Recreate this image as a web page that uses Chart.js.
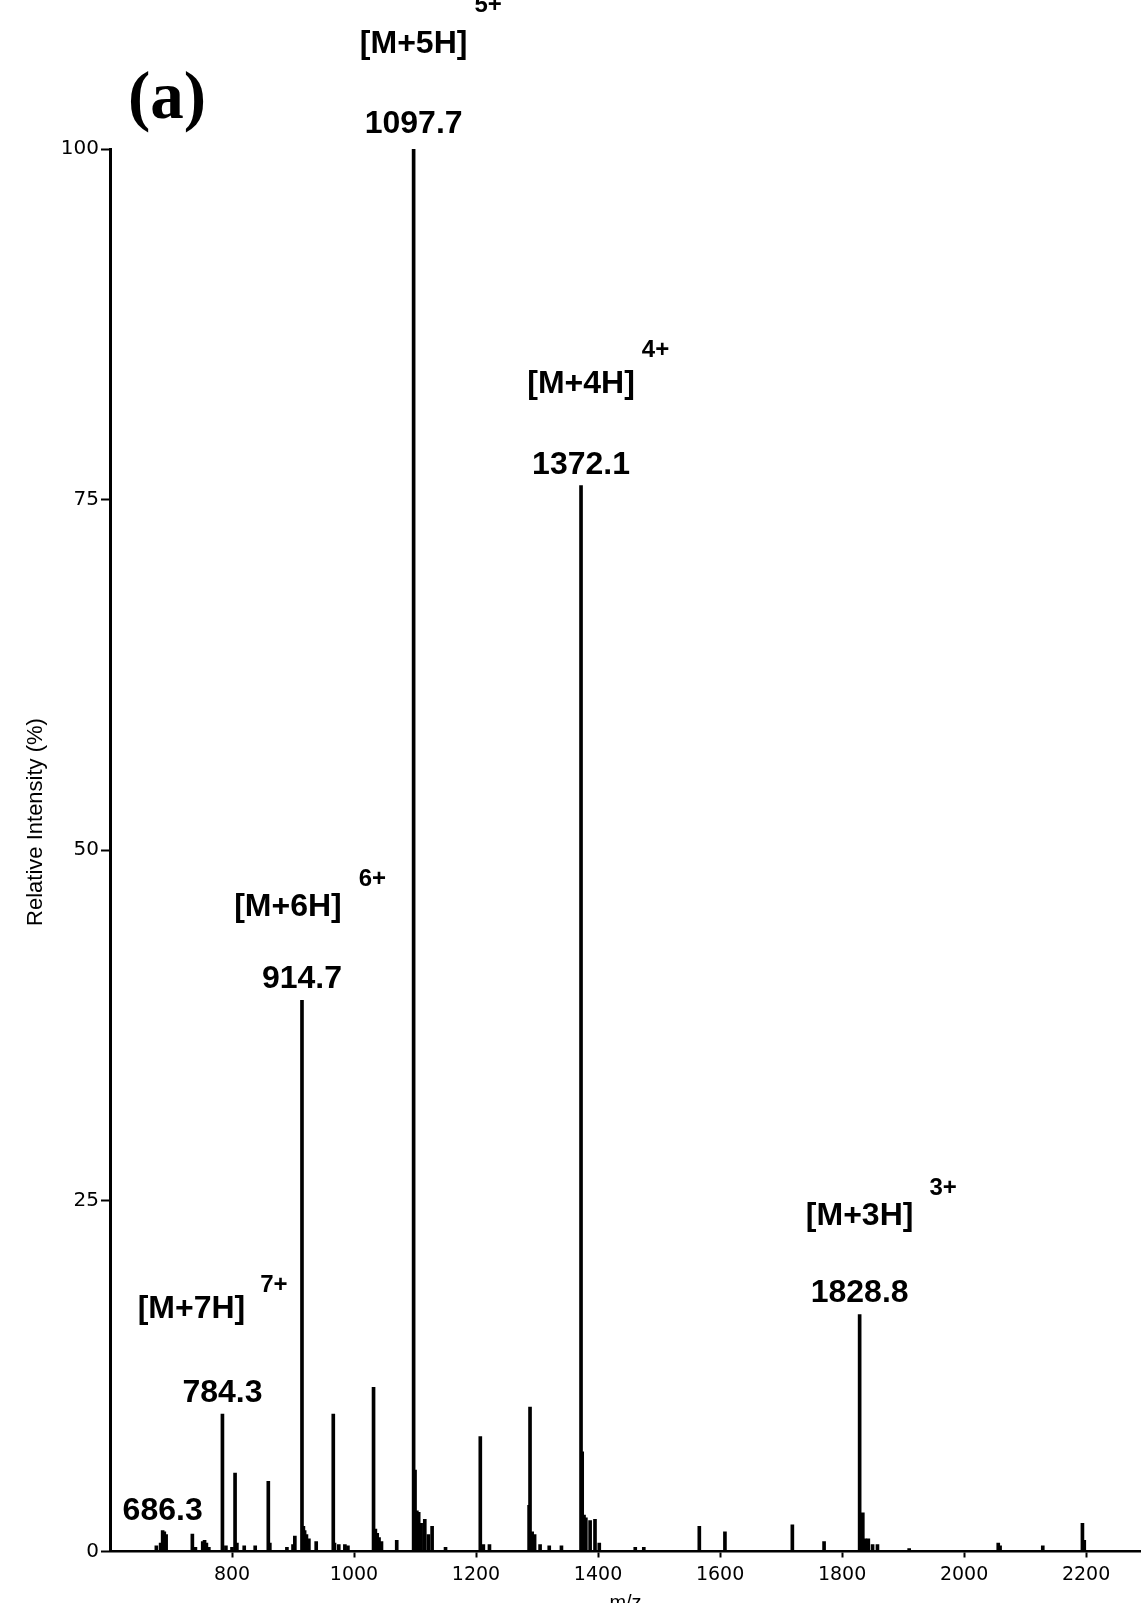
<!DOCTYPE html>
<html>
<head>
<meta charset="utf-8">
<script src="https://cdn.jsdelivr.net/npm/chart.js@4.4.1/dist/chart.umd.min.js"></script>
<style>
  html, body { margin: 0; padding: 0; background: #fff; overflow: hidden; }
  canvas { display: block; }
</style>
</head>
<body>
<canvas id="canvas" width="1141" height="1603"></canvas>
<script>
// spectrum sticks: m/z and relative intensity (%)
var peakMz = [
  676, 683, 686.3, 689, 692, 735, 740, 752, 755, 758, 762,
  784.3, 790, 800, 805, 808, 820, 838, 859.5, 862, 890, 900, 903,
  914.7, 917, 919, 922, 926, 938, 966, 968, 975, 985, 990,
  1032, 1035, 1038, 1041, 1045, 1070,
  1097.7, 1100, 1103, 1106, 1110, 1116, 1122, 1128, 1150,
  1207, 1212, 1222, 1287, 1288.5, 1292, 1296, 1305, 1320, 1340,
  1372.1, 1374, 1377, 1380, 1387, 1395, 1402, 1461, 1475,
  1566, 1608, 1718.5, 1770.5,
  1828.8, 1834, 1838, 1843, 1850, 1858, 1910,
  2056, 2059, 2129, 2194, 2197
];
var peakInt = [
  0.4, 0.6, 1.5, 1.4, 1.2, 1.25, 0.3, 0.7, 0.8, 0.6, 0.3,
  9.8, 0.4, 0.3, 5.6, 0.6, 0.4, 0.4, 5.0, 0.6, 0.3, 0.5, 1.1,
  39.3, 1.8, 1.5, 1.2, 0.9, 0.7, 9.8, 0.6, 0.5, 0.5, 0.4,
  11.7, 1.6, 1.3, 1.0, 0.7, 0.8,
  100, 5.8, 2.9, 2.8, 2.0, 2.3, 1.2, 1.8, 0.3,
  8.2, 0.5, 0.5, 3.3, 10.3, 1.4, 1.2, 0.5, 0.4, 0.4,
  76.0, 7.1, 2.6, 2.4, 2.2, 2.3, 0.6, 0.3, 0.3,
  1.8, 1.4, 1.9, 0.7,
  16.9, 2.75, 0.9, 0.9, 0.5, 0.5, 0.2,
  0.6, 0.4, 0.4, 2.0, 0.8
];

// annotated peaks
var labelMz = [686.3, 784.3, 914.7, 1097.7, 1372.1, 1828.8];
var labelText = ['686.3', '784.3', '914.7', '1097.7', '1372.1', '1828.8'];
var ionNames = [null, '[M+7H]', '[M+6H]', '[M+5H]', '[M+4H]', '[M+3H]'];
var ionCharges = [null, '7+', '6+', '5+', '4+', '3+'];

// axes
var xTicks = [800, 1000, 1200, 1400, 1600, 1800, 2000, 2200];
var yTicks = [0, 25, 50, 75, 100];
var xMin = 600, xMax = 2290;

var points = [];
for (var i = 0; i < peakMz.length; i++) {
  points.push({x: peakMz[i], y: peakInt[i]});
}

// hand tuned offsets for the labels (px)
var numGap   = [10, 12, 12, 16, 12, 12];
var ionRise  = [0, 84, 72, 80, 81, 77];
var ionDx    = [0, -31, -14, 0, 0, 0];
var supGap   = [0, 15, 17, 7, 7, 16];
var supRise  = [0, 26, 30, 41, 36, 30];

var labelPlugin = {
  id: 'peakLabels',
  afterDraw: function(chart) {
    var ctx = chart.ctx;
    var xs = chart.scales.x, ys = chart.scales.y;
    ctx.save();
    ctx.fillStyle = '#000';

    for (var i = 0; i < labelMz.length; i++) {
      var h = peakInt[peakMz.indexOf(labelMz[i])];
      var px = xs.getPixelForValue(labelMz[i]);
      var py = ys.getPixelForValue(h);
      var base = py - numGap[i];

      ctx.font = 'bold 32px "Liberation Sans", Arial, sans-serif';
      ctx.textAlign = 'center';
      ctx.textBaseline = 'alphabetic';
      ctx.fillText(labelText[i], px, base);

      if (ionNames[i]) {
        var ib = base - ionRise[i];
        var ix = px + ionDx[i];
        ctx.fillText(ionNames[i], ix, ib);
        var w = ctx.measureText(ionNames[i]).width;
        ctx.font = 'bold 24px "Liberation Sans", Arial, sans-serif';
        ctx.textAlign = 'left';
        ctx.fillText(ionCharges[i], ix + w / 2 + supGap[i], ib - supRise[i]);
      }
    }

    // panel letter
    ctx.font = 'bold 67px "Liberation Serif", "Times New Roman", serif';
    ctx.textAlign = 'left';
    ctx.fillText('(a)', 128, 118);

    // y axis title
    ctx.save();
    ctx.translate(36, 822);
    ctx.rotate(-Math.PI / 2);
    ctx.font = '22px "Liberation Sans", Arial, sans-serif';
    ctx.textAlign = 'center';
    ctx.textBaseline = 'middle';
    ctx.fillText('Relative Intensity (%)', 0, 0);
    ctx.restore();

    // x axis title, cut by the lower edge like in the scan
    ctx.font = '20px "Liberation Sans", Arial, sans-serif';
    ctx.textAlign = 'center';
    ctx.textBaseline = 'top';
    ctx.fillText('m/z', (chart.chartArea.left + chart.chartArea.right) / 2, 1593);

    ctx.restore();
  }
};

var config = {
  type: 'bar',
  data: {
    datasets: [{
      data: points,
      backgroundColor: '#000',
      borderWidth: 0,
      barThickness: 3
    }]
  },
  options: {
    responsive: false,
    animation: false,
    devicePixelRatio: 1,
    layout: { padding: { top: 149, left: 0, right: 0, bottom: 0 } },
    plugins: {
      legend: { display: false },
      tooltip: { enabled: false },
      title: { display: false }
    },
    scales: {
      x: {
        type: 'linear',
        min: xMin,
        max: xMax,
        offset: false,
        afterBuildTicks: function(scale) {
          scale.ticks = xTicks.map(function(v) { return {value: v}; });
        },
        afterFit: function(scale) { scale.height = 51.5; },
        grid: {
          display: true,
          offset: false,
          drawOnChartArea: false,
          drawTicks: true,
          tickLength: 6,
          tickWidth: 2,
          tickColor: '#000'
        },
        border: { display: true, color: '#000', width: 2.5 },
        ticks: {
          color: '#000',
          padding: 6,
          maxRotation: 0,
          autoSkip: false,
          font: { family: '"DejaVu Sans", sans-serif', size: 19 },
          callback: function(v) { return String(v); }
        }
      },
      y: {
        min: 0,
        max: 100,
        afterBuildTicks: function(scale) {
          scale.ticks = yTicks.map(function(v) { return {value: v}; });
        },
        afterFit: function(scale) { scale.width = 110; },
        grid: {
          display: true,
          drawOnChartArea: false,
          drawTicks: true,
          tickLength: 9,
          tickWidth: 2,
          tickColor: '#000'
        },
        border: { display: true, color: '#000', width: 3 },
        ticks: {
          color: '#000',
          padding: 2,
          autoSkip: false,
          font: { family: '"DejaVu Sans", sans-serif', size: 20 },
          callback: function(v) { return String(v); }
        }
      }
    }
  },
  plugins: [labelPlugin]
};

new Chart(document.getElementById('canvas'), config);
</script>
</body>
</html>
